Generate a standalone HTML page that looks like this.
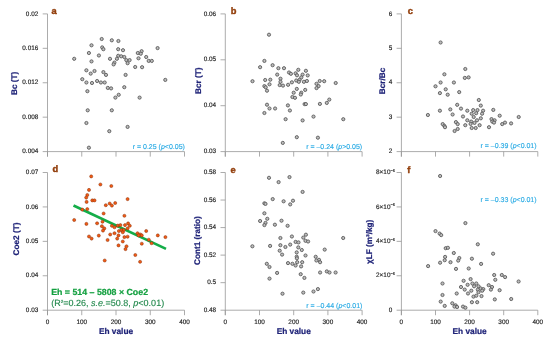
<!DOCTYPE html>
<html><head><meta charset="utf-8"><style>
html,body{margin:0;padding:0;background:#fff;width:550px;height:339px;overflow:hidden}
svg{display:block;transform:translateZ(0);opacity:0.999}
#w{transform:translateZ(0);opacity:0.999;width:550px;height:339px}
body{-webkit-font-smoothing:antialiased}
text{font-family:"Liberation Sans",sans-serif;text-rendering:geometricPrecision}
.tl{font-size:6.4px;fill:#222222;stroke:#222222;stroke-width:0.15px}
.sup{font-size:3.8px}
.tt{font-size:8.2px;font-weight:bold;fill:#1f2378;stroke:#1f2378;stroke-width:0.22px}
.lt{font-size:9.3px;font-weight:bold;fill:#93400e;stroke:#93400e;stroke-width:0.4px}
.rt{font-size:7px;fill:#28aae4;stroke:#28aae4;stroke-width:0.14px}
.eq1{font-size:8.8px;font-weight:bold;fill:#14a040;stroke:#14a040;stroke-width:0.22px}
.eq2{font-size:9px;fill:#22884c;stroke:#22884c;stroke-width:0.14px}
</style></head><body>
<div id="w"><svg width="550" height="339" viewBox="0 0 550 339">
<g>

<path d="M47.5 13.9V156.6M47.5 151.6H184.5" stroke="#979797" stroke-width="0.8" fill="none"/>
<path d="M42.7 13.90H47.5M42.7 48.32H47.5M42.7 82.75H47.5M42.7 117.17H47.5M42.7 151.60H47.5M47.50 151.6V156.6M81.75 151.6V156.6M116.00 151.6V156.6M150.25 151.6V156.6M184.50 151.6V156.6" stroke="#979797" stroke-width="0.8" fill="none"/>
<text x="38.30" y="15.50" class="tl" text-anchor="end">0.02</text>
<text x="38.30" y="49.92" class="tl" text-anchor="end">0.016</text>
<text x="38.30" y="84.35" class="tl" text-anchor="end">0.012</text>
<text x="38.30" y="118.77" class="tl" text-anchor="end">0.008</text>
<text x="38.30" y="153.20" class="tl" text-anchor="end">0.004</text>
<path d="M225.3 13.9V156.6M225.3 151.6H362.1" stroke="#979797" stroke-width="0.8" fill="none"/>
<path d="M220.5 13.90H225.3M220.5 59.80H225.3M220.5 105.70H225.3M220.5 151.60H225.3M225.30 151.6V156.6M259.50 151.6V156.6M293.70 151.6V156.6M327.90 151.6V156.6M362.10 151.6V156.6" stroke="#979797" stroke-width="0.8" fill="none"/>
<text x="216.10" y="15.50" class="tl" text-anchor="end">0.06</text>
<text x="216.10" y="61.40" class="tl" text-anchor="end">0.05</text>
<text x="216.10" y="107.30" class="tl" text-anchor="end">0.04</text>
<text x="216.10" y="153.20" class="tl" text-anchor="end">0.03</text>
<path d="M401.4 13.9V156.6M401.4 151.6H537.8" stroke="#979797" stroke-width="0.8" fill="none"/>
<path d="M396.59999999999997 13.90H401.4M396.59999999999997 48.32H401.4M396.59999999999997 82.75H401.4M396.59999999999997 117.17H401.4M396.59999999999997 151.60H401.4M401.40 151.6V156.6M435.50 151.6V156.6M469.60 151.6V156.6M503.70 151.6V156.6M537.80 151.6V156.6" stroke="#979797" stroke-width="0.8" fill="none"/>
<text x="392.20" y="15.50" class="tl" text-anchor="end">6</text>
<text x="392.20" y="49.92" class="tl" text-anchor="end">5</text>
<text x="392.20" y="84.35" class="tl" text-anchor="end">4</text>
<text x="392.20" y="118.77" class="tl" text-anchor="end">3</text>
<text x="392.20" y="153.20" class="tl" text-anchor="end">2</text>
<path d="M47.5 172.5V315.2M47.5 310.2H184.5" stroke="#979797" stroke-width="0.8" fill="none"/>
<path d="M42.7 172.50H47.5M42.7 206.93H47.5M42.7 241.35H47.5M42.7 275.77H47.5M42.7 310.20H47.5M47.50 310.2V315.2M81.75 310.2V315.2M116.00 310.2V315.2M150.25 310.2V315.2M184.50 310.2V315.2" stroke="#979797" stroke-width="0.8" fill="none"/>
<text x="38.30" y="174.10" class="tl" text-anchor="end">0.07</text>
<text x="38.30" y="208.53" class="tl" text-anchor="end">0.06</text>
<text x="38.30" y="242.95" class="tl" text-anchor="end">0.05</text>
<text x="38.30" y="277.38" class="tl" text-anchor="end">0.04</text>
<text x="38.30" y="311.80" class="tl" text-anchor="end">0.03</text>
<text x="47.50" y="323.80" class="tl" text-anchor="middle">0</text>
<text x="81.75" y="323.80" class="tl" text-anchor="middle">100</text>
<text x="116.00" y="323.80" class="tl" text-anchor="middle">200</text>
<text x="150.25" y="323.80" class="tl" text-anchor="middle">300</text>
<text x="184.50" y="323.80" class="tl" text-anchor="middle">400</text>
<text x="116.00" y="333.70" class="tt" style="font-size:8.3px" text-anchor="middle">Eh value</text>
<path d="M225.3 172.5V315.2M225.3 310.2H362.1" stroke="#979797" stroke-width="0.8" fill="none"/>
<path d="M220.5 172.50H225.3M220.5 200.04H225.3M220.5 227.58H225.3M220.5 255.12H225.3M220.5 282.66H225.3M220.5 310.20H225.3M225.30 310.2V315.2M259.50 310.2V315.2M293.70 310.2V315.2M327.90 310.2V315.2M362.10 310.2V315.2" stroke="#979797" stroke-width="0.8" fill="none"/>
<text x="216.10" y="174.10" class="tl" text-anchor="end">0.58</text>
<text x="216.10" y="201.64" class="tl" text-anchor="end">0.56</text>
<text x="216.10" y="229.18" class="tl" text-anchor="end">0.54</text>
<text x="216.10" y="256.72" class="tl" text-anchor="end">0.52</text>
<text x="216.10" y="284.26" class="tl" text-anchor="end">0.5</text>
<text x="216.10" y="311.80" class="tl" text-anchor="end">0.48</text>
<text x="225.30" y="323.80" class="tl" text-anchor="middle">0</text>
<text x="259.50" y="323.80" class="tl" text-anchor="middle">100</text>
<text x="293.70" y="323.80" class="tl" text-anchor="middle">200</text>
<text x="327.90" y="323.80" class="tl" text-anchor="middle">300</text>
<text x="362.10" y="323.80" class="tl" text-anchor="middle">400</text>
<text x="293.70" y="333.70" class="tt" style="font-size:8.3px" text-anchor="middle">Eh value</text>
<path d="M401.4 172.5V315.2M401.4 310.2H537.8" stroke="#979797" stroke-width="0.8" fill="none"/>
<path d="M396.59999999999997 172.50H401.4M396.59999999999997 206.93H401.4M396.59999999999997 241.35H401.4M396.59999999999997 275.77H401.4M396.59999999999997 310.20H401.4M401.40 310.2V315.2M435.50 310.2V315.2M469.60 310.2V315.2M503.70 310.2V315.2M537.80 310.2V315.2" stroke="#979797" stroke-width="0.8" fill="none"/>
<text x="394.80" y="174.10" class="tl" text-anchor="end">8×10<tspan class="sup" dy="-2.2">−6</tspan></text>
<text x="394.80" y="208.53" class="tl" text-anchor="end">6×10<tspan class="sup" dy="-2.2">−6</tspan></text>
<text x="394.80" y="242.95" class="tl" text-anchor="end">4×10<tspan class="sup" dy="-2.2">−6</tspan></text>
<text x="394.80" y="277.38" class="tl" text-anchor="end">2×10<tspan class="sup" dy="-2.2">−6</tspan></text>
<text x="392.20" y="311.80" class="tl" text-anchor="end">0</text>
<text x="401.40" y="323.80" class="tl" text-anchor="middle">0</text>
<text x="435.50" y="323.80" class="tl" text-anchor="middle">100</text>
<text x="469.60" y="323.80" class="tl" text-anchor="middle">200</text>
<text x="503.70" y="323.80" class="tl" text-anchor="middle">300</text>
<text x="537.80" y="323.80" class="tl" text-anchor="middle">400</text>
<text x="469.60" y="333.70" class="tt" style="font-size:8.3px" text-anchor="middle">Eh value</text>
<text transform="translate(14.1 83.4) rotate(-90)" class="tt" text-anchor="middle" dominant-baseline="central">Bc (T)</text>
<text transform="translate(198 80.8) rotate(-90)" class="tt" text-anchor="middle" dominant-baseline="central">Bcr (T)</text>
<text transform="translate(382.2 81) rotate(-90)" class="tt" text-anchor="middle" dominant-baseline="central">Bcr/Bc</text>
<text transform="translate(16.6 239) rotate(-90)" class="tt" text-anchor="middle" dominant-baseline="central">Coe2 (T)</text>
<text transform="translate(197.3 240.6) rotate(-90)" class="tt" text-anchor="middle" dominant-baseline="central">Cont1 (ratio)</text>
<text transform="translate(369.3 241.9) rotate(-90)" class="tt" text-anchor="middle" dominant-baseline="central">χLF (m³/kg)</text>
<text x="51.5" y="14.3" class="lt">a</text>
<text x="230.8" y="14.2" class="lt">b</text>
<text x="407.8" y="14.2" class="lt">c</text>
<text x="52.6" y="172.4" class="lt">d</text>
<text x="230.5" y="172.5" class="lt">e</text>
<text x="407.2" y="172.6" class="lt">f</text>
<circle cx="101.7" cy="39.0" r="1.6" fill="#bdbdbd" stroke="#555555" stroke-width="0.85"/>
<circle cx="111.8" cy="40.3" r="1.6" fill="#bdbdbd" stroke="#555555" stroke-width="0.85"/>
<circle cx="118.4" cy="41.0" r="1.6" fill="#bdbdbd" stroke="#555555" stroke-width="0.85"/>
<circle cx="91.5" cy="45.3" r="1.6" fill="#bdbdbd" stroke="#555555" stroke-width="0.85"/>
<circle cx="102.2" cy="47.4" r="1.6" fill="#bdbdbd" stroke="#555555" stroke-width="0.85"/>
<circle cx="103.4" cy="49.2" r="1.6" fill="#bdbdbd" stroke="#555555" stroke-width="0.85"/>
<circle cx="118.2" cy="49.2" r="1.6" fill="#bdbdbd" stroke="#555555" stroke-width="0.85"/>
<circle cx="123" cy="50.2" r="1.6" fill="#bdbdbd" stroke="#555555" stroke-width="0.85"/>
<circle cx="88.9" cy="53.0" r="1.6" fill="#bdbdbd" stroke="#555555" stroke-width="0.85"/>
<circle cx="98.9" cy="55.5" r="1.6" fill="#bdbdbd" stroke="#555555" stroke-width="0.85"/>
<circle cx="74.2" cy="58.8" r="1.6" fill="#bdbdbd" stroke="#555555" stroke-width="0.85"/>
<circle cx="91.5" cy="61.4" r="1.6" fill="#bdbdbd" stroke="#555555" stroke-width="0.85"/>
<circle cx="110" cy="58.8" r="1.6" fill="#bdbdbd" stroke="#555555" stroke-width="0.85"/>
<circle cx="118.2" cy="55.8" r="1.6" fill="#bdbdbd" stroke="#555555" stroke-width="0.85"/>
<circle cx="121.2" cy="56.3" r="1.6" fill="#bdbdbd" stroke="#555555" stroke-width="0.85"/>
<circle cx="124.3" cy="57.0" r="1.6" fill="#bdbdbd" stroke="#555555" stroke-width="0.85"/>
<circle cx="116.9" cy="58.8" r="1.6" fill="#bdbdbd" stroke="#555555" stroke-width="0.85"/>
<circle cx="126.3" cy="60.1" r="1.6" fill="#bdbdbd" stroke="#555555" stroke-width="0.85"/>
<circle cx="129.6" cy="60.1" r="1.6" fill="#bdbdbd" stroke="#555555" stroke-width="0.85"/>
<circle cx="127.6" cy="63.2" r="1.6" fill="#bdbdbd" stroke="#555555" stroke-width="0.85"/>
<circle cx="114.4" cy="62.6" r="1.6" fill="#bdbdbd" stroke="#555555" stroke-width="0.85"/>
<circle cx="113.6" cy="64.4" r="1.6" fill="#bdbdbd" stroke="#555555" stroke-width="0.85"/>
<circle cx="137.8" cy="53.0" r="1.6" fill="#bdbdbd" stroke="#555555" stroke-width="0.85"/>
<circle cx="141.6" cy="51.2" r="1.6" fill="#bdbdbd" stroke="#555555" stroke-width="0.85"/>
<circle cx="140.8" cy="53.7" r="1.6" fill="#bdbdbd" stroke="#555555" stroke-width="0.85"/>
<circle cx="157.6" cy="48.1" r="1.6" fill="#bdbdbd" stroke="#555555" stroke-width="0.85"/>
<circle cx="138.5" cy="58.3" r="1.6" fill="#bdbdbd" stroke="#555555" stroke-width="0.85"/>
<circle cx="146.2" cy="57.0" r="1.6" fill="#bdbdbd" stroke="#555555" stroke-width="0.85"/>
<circle cx="148.7" cy="60.9" r="1.6" fill="#bdbdbd" stroke="#555555" stroke-width="0.85"/>
<circle cx="151.8" cy="60.9" r="1.6" fill="#bdbdbd" stroke="#555555" stroke-width="0.85"/>
<circle cx="135.2" cy="67.0" r="1.6" fill="#bdbdbd" stroke="#555555" stroke-width="0.85"/>
<circle cx="142.1" cy="67.2" r="1.6" fill="#bdbdbd" stroke="#555555" stroke-width="0.85"/>
<circle cx="125.6" cy="74.9" r="1.6" fill="#bdbdbd" stroke="#555555" stroke-width="0.85"/>
<circle cx="86.4" cy="70.3" r="1.6" fill="#bdbdbd" stroke="#555555" stroke-width="0.85"/>
<circle cx="94.5" cy="71.0" r="1.6" fill="#bdbdbd" stroke="#555555" stroke-width="0.85"/>
<circle cx="90.7" cy="73.6" r="1.6" fill="#bdbdbd" stroke="#555555" stroke-width="0.85"/>
<circle cx="103.4" cy="72.1" r="1.6" fill="#bdbdbd" stroke="#555555" stroke-width="0.85"/>
<circle cx="106" cy="74.9" r="1.6" fill="#bdbdbd" stroke="#555555" stroke-width="0.85"/>
<circle cx="82.3" cy="79.2" r="1.6" fill="#bdbdbd" stroke="#555555" stroke-width="0.85"/>
<circle cx="86.4" cy="82.5" r="1.6" fill="#bdbdbd" stroke="#555555" stroke-width="0.85"/>
<circle cx="92" cy="83.0" r="1.6" fill="#bdbdbd" stroke="#555555" stroke-width="0.85"/>
<circle cx="97.1" cy="81.0" r="1.6" fill="#bdbdbd" stroke="#555555" stroke-width="0.85"/>
<circle cx="100.9" cy="82.5" r="1.6" fill="#bdbdbd" stroke="#555555" stroke-width="0.85"/>
<circle cx="104.7" cy="82.5" r="1.6" fill="#bdbdbd" stroke="#555555" stroke-width="0.85"/>
<circle cx="165.3" cy="79.9" r="1.6" fill="#bdbdbd" stroke="#555555" stroke-width="0.85"/>
<circle cx="87.4" cy="91.2" r="1.6" fill="#bdbdbd" stroke="#555555" stroke-width="0.85"/>
<circle cx="107.8" cy="87.9" r="1.6" fill="#bdbdbd" stroke="#555555" stroke-width="0.85"/>
<circle cx="111.1" cy="88.4" r="1.6" fill="#bdbdbd" stroke="#555555" stroke-width="0.85"/>
<circle cx="124.3" cy="87.2" r="1.6" fill="#bdbdbd" stroke="#555555" stroke-width="0.85"/>
<circle cx="115.4" cy="97.6" r="1.6" fill="#bdbdbd" stroke="#555555" stroke-width="0.85"/>
<circle cx="118.7" cy="94.8" r="1.6" fill="#bdbdbd" stroke="#555555" stroke-width="0.85"/>
<circle cx="139.6" cy="97.6" r="1.6" fill="#bdbdbd" stroke="#555555" stroke-width="0.85"/>
<circle cx="87.7" cy="110.3" r="1.6" fill="#bdbdbd" stroke="#555555" stroke-width="0.85"/>
<circle cx="111.8" cy="110.3" r="1.6" fill="#bdbdbd" stroke="#555555" stroke-width="0.85"/>
<circle cx="86.4" cy="123.0" r="1.6" fill="#bdbdbd" stroke="#555555" stroke-width="0.85"/>
<circle cx="127.6" cy="126.9" r="1.6" fill="#bdbdbd" stroke="#555555" stroke-width="0.85"/>
<circle cx="109.3" cy="131.2" r="1.6" fill="#bdbdbd" stroke="#555555" stroke-width="0.85"/>
<circle cx="88.9" cy="147.7" r="1.6" fill="#bdbdbd" stroke="#555555" stroke-width="0.85"/>
<circle cx="269" cy="34.7" r="1.6" fill="#bdbdbd" stroke="#555555" stroke-width="0.85"/>
<circle cx="264.4" cy="60.9" r="1.6" fill="#bdbdbd" stroke="#555555" stroke-width="0.85"/>
<circle cx="260.1" cy="67.2" r="1.6" fill="#bdbdbd" stroke="#555555" stroke-width="0.85"/>
<circle cx="272.6" cy="65.2" r="1.6" fill="#bdbdbd" stroke="#555555" stroke-width="0.85"/>
<circle cx="278.4" cy="68.2" r="1.6" fill="#bdbdbd" stroke="#555555" stroke-width="0.85"/>
<circle cx="284" cy="68.2" r="1.6" fill="#bdbdbd" stroke="#555555" stroke-width="0.85"/>
<circle cx="298.3" cy="69.8" r="1.6" fill="#bdbdbd" stroke="#555555" stroke-width="0.85"/>
<circle cx="305.9" cy="70.8" r="1.6" fill="#bdbdbd" stroke="#555555" stroke-width="0.85"/>
<circle cx="277.2" cy="74.6" r="1.6" fill="#bdbdbd" stroke="#555555" stroke-width="0.85"/>
<circle cx="289.0" cy="72.5" r="1.6" fill="#bdbdbd" stroke="#555555" stroke-width="0.85"/>
<circle cx="290.9" cy="73.8" r="1.6" fill="#bdbdbd" stroke="#555555" stroke-width="0.85"/>
<circle cx="295.6" cy="73.3" r="1.6" fill="#bdbdbd" stroke="#555555" stroke-width="0.85"/>
<circle cx="297.0" cy="75.3" r="1.6" fill="#bdbdbd" stroke="#555555" stroke-width="0.85"/>
<circle cx="302.6" cy="74.6" r="1.6" fill="#bdbdbd" stroke="#555555" stroke-width="0.85"/>
<circle cx="307.7" cy="75.4" r="1.6" fill="#bdbdbd" stroke="#555555" stroke-width="0.85"/>
<circle cx="252.5" cy="81.2" r="1.6" fill="#bdbdbd" stroke="#555555" stroke-width="0.85"/>
<circle cx="265.2" cy="80.0" r="1.6" fill="#bdbdbd" stroke="#555555" stroke-width="0.85"/>
<circle cx="270.3" cy="79.7" r="1.6" fill="#bdbdbd" stroke="#555555" stroke-width="0.85"/>
<circle cx="280.5" cy="78.7" r="1.6" fill="#bdbdbd" stroke="#555555" stroke-width="0.85"/>
<circle cx="280.5" cy="81.8" r="1.6" fill="#bdbdbd" stroke="#555555" stroke-width="0.85"/>
<circle cx="269.5" cy="84.3" r="1.6" fill="#bdbdbd" stroke="#555555" stroke-width="0.85"/>
<circle cx="264.4" cy="86.1" r="1.6" fill="#bdbdbd" stroke="#555555" stroke-width="0.85"/>
<circle cx="265.7" cy="87.3" r="1.6" fill="#bdbdbd" stroke="#555555" stroke-width="0.85"/>
<circle cx="267" cy="90.7" r="1.6" fill="#bdbdbd" stroke="#555555" stroke-width="0.85"/>
<circle cx="279.7" cy="85.1" r="1.6" fill="#bdbdbd" stroke="#555555" stroke-width="0.85"/>
<circle cx="283" cy="85.6" r="1.6" fill="#bdbdbd" stroke="#555555" stroke-width="0.85"/>
<circle cx="288.1" cy="84.8" r="1.6" fill="#bdbdbd" stroke="#555555" stroke-width="0.85"/>
<circle cx="291.9" cy="82.3" r="1.6" fill="#bdbdbd" stroke="#555555" stroke-width="0.85"/>
<circle cx="296.2" cy="80.5" r="1.6" fill="#bdbdbd" stroke="#555555" stroke-width="0.85"/>
<circle cx="299.6" cy="79.7" r="1.6" fill="#bdbdbd" stroke="#555555" stroke-width="0.85"/>
<circle cx="298.8" cy="81.8" r="1.6" fill="#bdbdbd" stroke="#555555" stroke-width="0.85"/>
<circle cx="303.9" cy="81.8" r="1.6" fill="#bdbdbd" stroke="#555555" stroke-width="0.85"/>
<circle cx="306.9" cy="81.0" r="1.6" fill="#bdbdbd" stroke="#555555" stroke-width="0.85"/>
<circle cx="301.3" cy="77.4" r="1.6" fill="#bdbdbd" stroke="#555555" stroke-width="0.85"/>
<circle cx="316.5" cy="83.8" r="1.6" fill="#bdbdbd" stroke="#555555" stroke-width="0.85"/>
<circle cx="318.6" cy="86.1" r="1.6" fill="#bdbdbd" stroke="#555555" stroke-width="0.85"/>
<circle cx="316.5" cy="88.1" r="1.6" fill="#bdbdbd" stroke="#555555" stroke-width="0.85"/>
<circle cx="319.7" cy="81.0" r="1.6" fill="#bdbdbd" stroke="#555555" stroke-width="0.85"/>
<circle cx="324.2" cy="81.2" r="1.6" fill="#bdbdbd" stroke="#555555" stroke-width="0.85"/>
<circle cx="335.7" cy="83.0" r="1.6" fill="#bdbdbd" stroke="#555555" stroke-width="0.85"/>
<circle cx="296.8" cy="88.9" r="1.6" fill="#bdbdbd" stroke="#555555" stroke-width="0.85"/>
<circle cx="293.7" cy="92.7" r="1.6" fill="#bdbdbd" stroke="#555555" stroke-width="0.85"/>
<circle cx="301.3" cy="92.7" r="1.6" fill="#bdbdbd" stroke="#555555" stroke-width="0.85"/>
<circle cx="300.8" cy="94.5" r="1.6" fill="#bdbdbd" stroke="#555555" stroke-width="0.85"/>
<circle cx="305.2" cy="89.9" r="1.6" fill="#bdbdbd" stroke="#555555" stroke-width="0.85"/>
<circle cx="292.4" cy="97.0" r="1.6" fill="#bdbdbd" stroke="#555555" stroke-width="0.85"/>
<circle cx="295" cy="97.8" r="1.6" fill="#bdbdbd" stroke="#555555" stroke-width="0.85"/>
<circle cx="267" cy="104.7" r="1.6" fill="#bdbdbd" stroke="#555555" stroke-width="0.85"/>
<circle cx="269.5" cy="108.5" r="1.6" fill="#bdbdbd" stroke="#555555" stroke-width="0.85"/>
<circle cx="275.1" cy="108.5" r="1.6" fill="#bdbdbd" stroke="#555555" stroke-width="0.85"/>
<circle cx="264.4" cy="113.0" r="1.6" fill="#bdbdbd" stroke="#555555" stroke-width="0.85"/>
<circle cx="287.9" cy="105.4" r="1.6" fill="#bdbdbd" stroke="#555555" stroke-width="0.85"/>
<circle cx="289.9" cy="110.5" r="1.6" fill="#bdbdbd" stroke="#555555" stroke-width="0.85"/>
<circle cx="304.6" cy="104.1" r="1.6" fill="#bdbdbd" stroke="#555555" stroke-width="0.85"/>
<circle cx="305.9" cy="104.1" r="1.6" fill="#bdbdbd" stroke="#555555" stroke-width="0.85"/>
<circle cx="319.9" cy="103.9" r="1.6" fill="#bdbdbd" stroke="#555555" stroke-width="0.85"/>
<circle cx="326.8" cy="102.9" r="1.6" fill="#bdbdbd" stroke="#555555" stroke-width="0.85"/>
<circle cx="329.3" cy="99.6" r="1.6" fill="#bdbdbd" stroke="#555555" stroke-width="0.85"/>
<circle cx="285.6" cy="119.2" r="1.6" fill="#bdbdbd" stroke="#555555" stroke-width="0.85"/>
<circle cx="302.6" cy="120.4" r="1.6" fill="#bdbdbd" stroke="#555555" stroke-width="0.85"/>
<circle cx="313.5" cy="116.6" r="1.6" fill="#bdbdbd" stroke="#555555" stroke-width="0.85"/>
<circle cx="343.3" cy="119.2" r="1.6" fill="#bdbdbd" stroke="#555555" stroke-width="0.85"/>
<circle cx="296.8" cy="137.2" r="1.6" fill="#bdbdbd" stroke="#555555" stroke-width="0.85"/>
<circle cx="317.9" cy="137.7" r="1.6" fill="#bdbdbd" stroke="#555555" stroke-width="0.85"/>
<circle cx="282.8" cy="142.9" r="1.6" fill="#bdbdbd" stroke="#555555" stroke-width="0.85"/>
<circle cx="440.6" cy="42.5" r="1.6" fill="#bdbdbd" stroke="#555555" stroke-width="0.85"/>
<circle cx="465.3" cy="69.0" r="1.6" fill="#bdbdbd" stroke="#555555" stroke-width="0.85"/>
<circle cx="444.4" cy="74.3" r="1.6" fill="#bdbdbd" stroke="#555555" stroke-width="0.85"/>
<circle cx="464.8" cy="77.9" r="1.6" fill="#bdbdbd" stroke="#555555" stroke-width="0.85"/>
<circle cx="468.6" cy="77.4" r="1.6" fill="#bdbdbd" stroke="#555555" stroke-width="0.85"/>
<circle cx="440.6" cy="82.5" r="1.6" fill="#bdbdbd" stroke="#555555" stroke-width="0.85"/>
<circle cx="453.9" cy="82.5" r="1.6" fill="#bdbdbd" stroke="#555555" stroke-width="0.85"/>
<circle cx="435.5" cy="86.3" r="1.6" fill="#bdbdbd" stroke="#555555" stroke-width="0.85"/>
<circle cx="445.7" cy="89.3" r="1.6" fill="#bdbdbd" stroke="#555555" stroke-width="0.85"/>
<circle cx="439.9" cy="93.1" r="1.6" fill="#bdbdbd" stroke="#555555" stroke-width="0.85"/>
<circle cx="447.7" cy="94.7" r="1.6" fill="#bdbdbd" stroke="#555555" stroke-width="0.85"/>
<circle cx="459.2" cy="92.1" r="1.6" fill="#bdbdbd" stroke="#555555" stroke-width="0.85"/>
<circle cx="478.8" cy="100.0" r="1.6" fill="#bdbdbd" stroke="#555555" stroke-width="0.85"/>
<circle cx="457.2" cy="104.8" r="1.6" fill="#bdbdbd" stroke="#555555" stroke-width="0.85"/>
<circle cx="480.8" cy="105.6" r="1.6" fill="#bdbdbd" stroke="#555555" stroke-width="0.85"/>
<circle cx="439.9" cy="110.7" r="1.6" fill="#bdbdbd" stroke="#555555" stroke-width="0.85"/>
<circle cx="450.3" cy="109.4" r="1.6" fill="#bdbdbd" stroke="#555555" stroke-width="0.85"/>
<circle cx="461" cy="108.6" r="1.6" fill="#bdbdbd" stroke="#555555" stroke-width="0.85"/>
<circle cx="467.3" cy="110.7" r="1.6" fill="#bdbdbd" stroke="#555555" stroke-width="0.85"/>
<circle cx="473.2" cy="110.1" r="1.6" fill="#bdbdbd" stroke="#555555" stroke-width="0.85"/>
<circle cx="477.5" cy="110.1" r="1.6" fill="#bdbdbd" stroke="#555555" stroke-width="0.85"/>
<circle cx="483.1" cy="110.7" r="1.6" fill="#bdbdbd" stroke="#555555" stroke-width="0.85"/>
<circle cx="493.3" cy="109.9" r="1.6" fill="#bdbdbd" stroke="#555555" stroke-width="0.85"/>
<circle cx="427.9" cy="115.0" r="1.6" fill="#bdbdbd" stroke="#555555" stroke-width="0.85"/>
<circle cx="452.6" cy="114.5" r="1.6" fill="#bdbdbd" stroke="#555555" stroke-width="0.85"/>
<circle cx="463" cy="116.5" r="1.6" fill="#bdbdbd" stroke="#555555" stroke-width="0.85"/>
<circle cx="471.7" cy="113.7" r="1.6" fill="#bdbdbd" stroke="#555555" stroke-width="0.85"/>
<circle cx="476.2" cy="113.2" r="1.6" fill="#bdbdbd" stroke="#555555" stroke-width="0.85"/>
<circle cx="482.1" cy="113.7" r="1.6" fill="#bdbdbd" stroke="#555555" stroke-width="0.85"/>
<circle cx="473.7" cy="117.0" r="1.6" fill="#bdbdbd" stroke="#555555" stroke-width="0.85"/>
<circle cx="480.8" cy="118.3" r="1.6" fill="#bdbdbd" stroke="#555555" stroke-width="0.85"/>
<circle cx="499.7" cy="115.7" r="1.6" fill="#bdbdbd" stroke="#555555" stroke-width="0.85"/>
<circle cx="518.7" cy="117.0" r="1.6" fill="#bdbdbd" stroke="#555555" stroke-width="0.85"/>
<circle cx="467.3" cy="120.3" r="1.6" fill="#bdbdbd" stroke="#555555" stroke-width="0.85"/>
<circle cx="471.2" cy="121.6" r="1.6" fill="#bdbdbd" stroke="#555555" stroke-width="0.85"/>
<circle cx="477" cy="120.3" r="1.6" fill="#bdbdbd" stroke="#555555" stroke-width="0.85"/>
<circle cx="491.5" cy="119.1" r="1.6" fill="#bdbdbd" stroke="#555555" stroke-width="0.85"/>
<circle cx="494.6" cy="120.3" r="1.6" fill="#bdbdbd" stroke="#555555" stroke-width="0.85"/>
<circle cx="492.3" cy="121.6" r="1.6" fill="#bdbdbd" stroke="#555555" stroke-width="0.85"/>
<circle cx="494" cy="122.6" r="1.6" fill="#bdbdbd" stroke="#555555" stroke-width="0.85"/>
<circle cx="455.9" cy="122.1" r="1.6" fill="#bdbdbd" stroke="#555555" stroke-width="0.85"/>
<circle cx="457.7" cy="124.1" r="1.6" fill="#bdbdbd" stroke="#555555" stroke-width="0.85"/>
<circle cx="465.3" cy="125.2" r="1.6" fill="#bdbdbd" stroke="#555555" stroke-width="0.85"/>
<circle cx="470.6" cy="123.9" r="1.6" fill="#bdbdbd" stroke="#555555" stroke-width="0.85"/>
<circle cx="474.5" cy="122.9" r="1.6" fill="#bdbdbd" stroke="#555555" stroke-width="0.85"/>
<circle cx="442.7" cy="124.1" r="1.6" fill="#bdbdbd" stroke="#555555" stroke-width="0.85"/>
<circle cx="444.4" cy="125.9" r="1.6" fill="#bdbdbd" stroke="#555555" stroke-width="0.85"/>
<circle cx="445" cy="127.2" r="1.6" fill="#bdbdbd" stroke="#555555" stroke-width="0.85"/>
<circle cx="479.6" cy="125.2" r="1.6" fill="#bdbdbd" stroke="#555555" stroke-width="0.85"/>
<circle cx="502.2" cy="124.1" r="1.6" fill="#bdbdbd" stroke="#555555" stroke-width="0.85"/>
<circle cx="505" cy="122.6" r="1.6" fill="#bdbdbd" stroke="#555555" stroke-width="0.85"/>
<circle cx="511.1" cy="123.4" r="1.6" fill="#bdbdbd" stroke="#555555" stroke-width="0.85"/>
<circle cx="471.7" cy="128.0" r="1.6" fill="#bdbdbd" stroke="#555555" stroke-width="0.85"/>
<circle cx="475.7" cy="128.0" r="1.6" fill="#bdbdbd" stroke="#555555" stroke-width="0.85"/>
<circle cx="489" cy="127.2" r="1.6" fill="#bdbdbd" stroke="#555555" stroke-width="0.85"/>
<circle cx="454.6" cy="131.0" r="1.6" fill="#bdbdbd" stroke="#555555" stroke-width="0.85"/>
<circle cx="457.7" cy="129.0" r="1.6" fill="#bdbdbd" stroke="#555555" stroke-width="0.85"/>
<line x1="73.5" y1="205.5" x2="166" y2="248.9" stroke="#14ad48" stroke-width="2.7"/>
<circle cx="91.2" cy="176.4" r="1.55" fill="#f25a14" stroke="#84300c" stroke-width="0.5"/>
<circle cx="100.4" cy="184.5" r="1.55" fill="#f25a14" stroke="#84300c" stroke-width="0.5"/>
<circle cx="111.3" cy="186.0" r="1.55" fill="#f25a14" stroke="#84300c" stroke-width="0.5"/>
<circle cx="89" cy="189.9" r="1.55" fill="#f25a14" stroke="#84300c" stroke-width="0.5"/>
<circle cx="87.3" cy="195.0" r="1.55" fill="#f25a14" stroke="#84300c" stroke-width="0.5"/>
<circle cx="86.2" cy="197.6" r="1.55" fill="#f25a14" stroke="#84300c" stroke-width="0.5"/>
<circle cx="92.3" cy="200.4" r="1.55" fill="#f25a14" stroke="#84300c" stroke-width="0.5"/>
<circle cx="94.5" cy="200.4" r="1.55" fill="#f25a14" stroke="#84300c" stroke-width="0.5"/>
<circle cx="86.6" cy="201.9" r="1.55" fill="#f25a14" stroke="#84300c" stroke-width="0.5"/>
<circle cx="127.6" cy="199.1" r="1.55" fill="#f25a14" stroke="#84300c" stroke-width="0.5"/>
<circle cx="105.8" cy="205.2" r="1.55" fill="#f25a14" stroke="#84300c" stroke-width="0.5"/>
<circle cx="109.7" cy="203.5" r="1.55" fill="#f25a14" stroke="#84300c" stroke-width="0.5"/>
<circle cx="111.9" cy="205.6" r="1.55" fill="#f25a14" stroke="#84300c" stroke-width="0.5"/>
<circle cx="115.2" cy="203.0" r="1.55" fill="#f25a14" stroke="#84300c" stroke-width="0.5"/>
<circle cx="82.3" cy="209.6" r="1.55" fill="#f25a14" stroke="#84300c" stroke-width="0.5"/>
<circle cx="87.3" cy="209.1" r="1.55" fill="#f25a14" stroke="#84300c" stroke-width="0.5"/>
<circle cx="103.6" cy="213.5" r="1.55" fill="#f25a14" stroke="#84300c" stroke-width="0.5"/>
<circle cx="74.2" cy="220.0" r="1.55" fill="#f25a14" stroke="#84300c" stroke-width="0.5"/>
<circle cx="124.4" cy="215.8" r="1.55" fill="#f25a14" stroke="#84300c" stroke-width="0.5"/>
<circle cx="86.4" cy="223.9" r="1.55" fill="#f25a14" stroke="#84300c" stroke-width="0.5"/>
<circle cx="97.1" cy="223.3" r="1.55" fill="#f25a14" stroke="#84300c" stroke-width="0.5"/>
<circle cx="102.5" cy="221.7" r="1.55" fill="#f25a14" stroke="#84300c" stroke-width="0.5"/>
<circle cx="101.9" cy="226.2" r="1.55" fill="#f25a14" stroke="#84300c" stroke-width="0.5"/>
<circle cx="104.3" cy="228.4" r="1.55" fill="#f25a14" stroke="#84300c" stroke-width="0.5"/>
<circle cx="103" cy="230.6" r="1.55" fill="#f25a14" stroke="#84300c" stroke-width="0.5"/>
<circle cx="111.9" cy="225.8" r="1.55" fill="#f25a14" stroke="#84300c" stroke-width="0.5"/>
<circle cx="114.5" cy="227.3" r="1.55" fill="#f25a14" stroke="#84300c" stroke-width="0.5"/>
<circle cx="117.8" cy="225.6" r="1.55" fill="#f25a14" stroke="#84300c" stroke-width="0.5"/>
<circle cx="120.4" cy="225.1" r="1.55" fill="#f25a14" stroke="#84300c" stroke-width="0.5"/>
<circle cx="125" cy="225.1" r="1.55" fill="#f25a14" stroke="#84300c" stroke-width="0.5"/>
<circle cx="128.1" cy="223.4" r="1.55" fill="#f25a14" stroke="#84300c" stroke-width="0.5"/>
<circle cx="129.8" cy="225.8" r="1.55" fill="#f25a14" stroke="#84300c" stroke-width="0.5"/>
<circle cx="127.6" cy="228.4" r="1.55" fill="#f25a14" stroke="#84300c" stroke-width="0.5"/>
<circle cx="118.9" cy="231.0" r="1.55" fill="#f25a14" stroke="#84300c" stroke-width="0.5"/>
<circle cx="121.5" cy="230.1" r="1.55" fill="#f25a14" stroke="#84300c" stroke-width="0.5"/>
<circle cx="123.7" cy="230.1" r="1.55" fill="#f25a14" stroke="#84300c" stroke-width="0.5"/>
<circle cx="122.8" cy="232.3" r="1.55" fill="#f25a14" stroke="#84300c" stroke-width="0.5"/>
<circle cx="114.5" cy="233.2" r="1.55" fill="#f25a14" stroke="#84300c" stroke-width="0.5"/>
<circle cx="110.2" cy="234.5" r="1.55" fill="#f25a14" stroke="#84300c" stroke-width="0.5"/>
<circle cx="118.5" cy="235.4" r="1.55" fill="#f25a14" stroke="#84300c" stroke-width="0.5"/>
<circle cx="117.2" cy="238.6" r="1.55" fill="#f25a14" stroke="#84300c" stroke-width="0.5"/>
<circle cx="124.4" cy="237.1" r="1.55" fill="#f25a14" stroke="#84300c" stroke-width="0.5"/>
<circle cx="127.6" cy="236.7" r="1.55" fill="#f25a14" stroke="#84300c" stroke-width="0.5"/>
<circle cx="98.8" cy="235.6" r="1.55" fill="#f25a14" stroke="#84300c" stroke-width="0.5"/>
<circle cx="89" cy="236.5" r="1.55" fill="#f25a14" stroke="#84300c" stroke-width="0.5"/>
<circle cx="91.6" cy="238.6" r="1.55" fill="#f25a14" stroke="#84300c" stroke-width="0.5"/>
<circle cx="107.6" cy="240.0" r="1.55" fill="#f25a14" stroke="#84300c" stroke-width="0.5"/>
<circle cx="122.8" cy="241.5" r="1.55" fill="#f25a14" stroke="#84300c" stroke-width="0.5"/>
<circle cx="118.5" cy="245.4" r="1.55" fill="#f25a14" stroke="#84300c" stroke-width="0.5"/>
<circle cx="126.5" cy="246.3" r="1.55" fill="#f25a14" stroke="#84300c" stroke-width="0.5"/>
<circle cx="125.5" cy="249.1" r="1.55" fill="#f25a14" stroke="#84300c" stroke-width="0.5"/>
<circle cx="137.5" cy="233.2" r="1.55" fill="#f25a14" stroke="#84300c" stroke-width="0.5"/>
<circle cx="140.3" cy="234.5" r="1.55" fill="#f25a14" stroke="#84300c" stroke-width="0.5"/>
<circle cx="141.8" cy="235.4" r="1.55" fill="#f25a14" stroke="#84300c" stroke-width="0.5"/>
<circle cx="138.6" cy="235.4" r="1.55" fill="#f25a14" stroke="#84300c" stroke-width="0.5"/>
<circle cx="146.2" cy="231.0" r="1.55" fill="#f25a14" stroke="#84300c" stroke-width="0.5"/>
<circle cx="157.8" cy="235.4" r="1.55" fill="#f25a14" stroke="#84300c" stroke-width="0.5"/>
<circle cx="165.4" cy="237.1" r="1.55" fill="#f25a14" stroke="#84300c" stroke-width="0.5"/>
<circle cx="148.8" cy="239.7" r="1.55" fill="#f25a14" stroke="#84300c" stroke-width="0.5"/>
<circle cx="141.8" cy="243.7" r="1.55" fill="#f25a14" stroke="#84300c" stroke-width="0.5"/>
<circle cx="151.6" cy="243.2" r="1.55" fill="#f25a14" stroke="#84300c" stroke-width="0.5"/>
<circle cx="135.3" cy="255.0" r="1.55" fill="#f25a14" stroke="#84300c" stroke-width="0.5"/>
<circle cx="104.7" cy="260.5" r="1.55" fill="#f25a14" stroke="#84300c" stroke-width="0.5"/>
<circle cx="140.1" cy="261.8" r="1.55" fill="#f25a14" stroke="#84300c" stroke-width="0.5"/>
<circle cx="269" cy="177.8" r="1.6" fill="#bdbdbd" stroke="#555555" stroke-width="0.85"/>
<circle cx="289.5" cy="177.1" r="1.6" fill="#bdbdbd" stroke="#555555" stroke-width="0.85"/>
<circle cx="278.6" cy="182.1" r="1.6" fill="#bdbdbd" stroke="#555555" stroke-width="0.85"/>
<circle cx="302.6" cy="191.9" r="1.6" fill="#bdbdbd" stroke="#555555" stroke-width="0.85"/>
<circle cx="272.7" cy="199.1" r="1.6" fill="#bdbdbd" stroke="#555555" stroke-width="0.85"/>
<circle cx="264.4" cy="203.3" r="1.6" fill="#bdbdbd" stroke="#555555" stroke-width="0.85"/>
<circle cx="265.5" cy="203.9" r="1.6" fill="#bdbdbd" stroke="#555555" stroke-width="0.85"/>
<circle cx="283.6" cy="201.3" r="1.6" fill="#bdbdbd" stroke="#555555" stroke-width="0.85"/>
<circle cx="293" cy="200.7" r="1.6" fill="#bdbdbd" stroke="#555555" stroke-width="0.85"/>
<circle cx="290.2" cy="204.4" r="1.6" fill="#bdbdbd" stroke="#555555" stroke-width="0.85"/>
<circle cx="264.4" cy="213.3" r="1.6" fill="#bdbdbd" stroke="#555555" stroke-width="0.85"/>
<circle cx="267.3" cy="218.8" r="1.6" fill="#bdbdbd" stroke="#555555" stroke-width="0.85"/>
<circle cx="260.1" cy="221.0" r="1.6" fill="#bdbdbd" stroke="#555555" stroke-width="0.85"/>
<circle cx="265.5" cy="222.9" r="1.6" fill="#bdbdbd" stroke="#555555" stroke-width="0.85"/>
<circle cx="264.4" cy="225.1" r="1.6" fill="#bdbdbd" stroke="#555555" stroke-width="0.85"/>
<circle cx="274.9" cy="224.7" r="1.6" fill="#bdbdbd" stroke="#555555" stroke-width="0.85"/>
<circle cx="281.5" cy="220.7" r="1.6" fill="#bdbdbd" stroke="#555555" stroke-width="0.85"/>
<circle cx="287.6" cy="225.8" r="1.6" fill="#bdbdbd" stroke="#555555" stroke-width="0.85"/>
<circle cx="280.4" cy="238.0" r="1.6" fill="#bdbdbd" stroke="#555555" stroke-width="0.85"/>
<circle cx="291.9" cy="236.5" r="1.6" fill="#bdbdbd" stroke="#555555" stroke-width="0.85"/>
<circle cx="305.9" cy="234.7" r="1.6" fill="#bdbdbd" stroke="#555555" stroke-width="0.85"/>
<circle cx="303.3" cy="237.6" r="1.6" fill="#bdbdbd" stroke="#555555" stroke-width="0.85"/>
<circle cx="305.5" cy="240.8" r="1.6" fill="#bdbdbd" stroke="#555555" stroke-width="0.85"/>
<circle cx="308.1" cy="241.5" r="1.6" fill="#bdbdbd" stroke="#555555" stroke-width="0.85"/>
<circle cx="343.2" cy="238.0" r="1.6" fill="#bdbdbd" stroke="#555555" stroke-width="0.85"/>
<circle cx="252.4" cy="246.3" r="1.6" fill="#bdbdbd" stroke="#555555" stroke-width="0.85"/>
<circle cx="270.1" cy="245.9" r="1.6" fill="#bdbdbd" stroke="#555555" stroke-width="0.85"/>
<circle cx="280.4" cy="245.2" r="1.6" fill="#bdbdbd" stroke="#555555" stroke-width="0.85"/>
<circle cx="285.4" cy="247.0" r="1.6" fill="#bdbdbd" stroke="#555555" stroke-width="0.85"/>
<circle cx="290.2" cy="244.6" r="1.6" fill="#bdbdbd" stroke="#555555" stroke-width="0.85"/>
<circle cx="295.6" cy="241.9" r="1.6" fill="#bdbdbd" stroke="#555555" stroke-width="0.85"/>
<circle cx="298.5" cy="242.4" r="1.6" fill="#bdbdbd" stroke="#555555" stroke-width="0.85"/>
<circle cx="298.3" cy="247.4" r="1.6" fill="#bdbdbd" stroke="#555555" stroke-width="0.85"/>
<circle cx="301.8" cy="250.0" r="1.6" fill="#bdbdbd" stroke="#555555" stroke-width="0.85"/>
<circle cx="324.7" cy="249.6" r="1.6" fill="#bdbdbd" stroke="#555555" stroke-width="0.85"/>
<circle cx="279.7" cy="250.7" r="1.6" fill="#bdbdbd" stroke="#555555" stroke-width="0.85"/>
<circle cx="282.1" cy="254.6" r="1.6" fill="#bdbdbd" stroke="#555555" stroke-width="0.85"/>
<circle cx="296.7" cy="252.4" r="1.6" fill="#bdbdbd" stroke="#555555" stroke-width="0.85"/>
<circle cx="305.5" cy="255.5" r="1.6" fill="#bdbdbd" stroke="#555555" stroke-width="0.85"/>
<circle cx="296.7" cy="256.7" r="1.6" fill="#bdbdbd" stroke="#555555" stroke-width="0.85"/>
<circle cx="296.9" cy="258.3" r="1.6" fill="#bdbdbd" stroke="#555555" stroke-width="0.85"/>
<circle cx="315.7" cy="256.8" r="1.6" fill="#bdbdbd" stroke="#555555" stroke-width="0.85"/>
<circle cx="319" cy="259.8" r="1.6" fill="#bdbdbd" stroke="#555555" stroke-width="0.85"/>
<circle cx="316.4" cy="260.5" r="1.6" fill="#bdbdbd" stroke="#555555" stroke-width="0.85"/>
<circle cx="320.1" cy="262.2" r="1.6" fill="#bdbdbd" stroke="#555555" stroke-width="0.85"/>
<circle cx="266.8" cy="263.8" r="1.6" fill="#bdbdbd" stroke="#555555" stroke-width="0.85"/>
<circle cx="269.5" cy="267.0" r="1.6" fill="#bdbdbd" stroke="#555555" stroke-width="0.85"/>
<circle cx="288" cy="263.1" r="1.6" fill="#bdbdbd" stroke="#555555" stroke-width="0.85"/>
<circle cx="292.4" cy="263.8" r="1.6" fill="#bdbdbd" stroke="#555555" stroke-width="0.85"/>
<circle cx="295.6" cy="265.5" r="1.6" fill="#bdbdbd" stroke="#555555" stroke-width="0.85"/>
<circle cx="297.2" cy="262.2" r="1.6" fill="#bdbdbd" stroke="#555555" stroke-width="0.85"/>
<circle cx="302.2" cy="262.2" r="1.6" fill="#bdbdbd" stroke="#555555" stroke-width="0.85"/>
<circle cx="301.1" cy="266.4" r="1.6" fill="#bdbdbd" stroke="#555555" stroke-width="0.85"/>
<circle cx="277.1" cy="272.9" r="1.6" fill="#bdbdbd" stroke="#555555" stroke-width="0.85"/>
<circle cx="300.7" cy="274.2" r="1.6" fill="#bdbdbd" stroke="#555555" stroke-width="0.85"/>
<circle cx="320.1" cy="272.5" r="1.6" fill="#bdbdbd" stroke="#555555" stroke-width="0.85"/>
<circle cx="326.8" cy="271.4" r="1.6" fill="#bdbdbd" stroke="#555555" stroke-width="0.85"/>
<circle cx="329.5" cy="272.5" r="1.6" fill="#bdbdbd" stroke="#555555" stroke-width="0.85"/>
<circle cx="335.6" cy="272.5" r="1.6" fill="#bdbdbd" stroke="#555555" stroke-width="0.85"/>
<circle cx="269.5" cy="278.6" r="1.6" fill="#bdbdbd" stroke="#555555" stroke-width="0.85"/>
<circle cx="304.4" cy="277.9" r="1.6" fill="#bdbdbd" stroke="#555555" stroke-width="0.85"/>
<circle cx="282.5" cy="293.7" r="1.6" fill="#bdbdbd" stroke="#555555" stroke-width="0.85"/>
<circle cx="303.3" cy="292.6" r="1.6" fill="#bdbdbd" stroke="#555555" stroke-width="0.85"/>
<circle cx="313.5" cy="291.5" r="1.6" fill="#bdbdbd" stroke="#555555" stroke-width="0.85"/>
<circle cx="317.9" cy="289.1" r="1.6" fill="#bdbdbd" stroke="#555555" stroke-width="0.85"/>
<circle cx="440.1" cy="176.0" r="1.6" fill="#bdbdbd" stroke="#555555" stroke-width="0.85"/>
<circle cx="465.4" cy="223.1" r="1.6" fill="#bdbdbd" stroke="#555555" stroke-width="0.85"/>
<circle cx="435.5" cy="231.1" r="1.6" fill="#bdbdbd" stroke="#555555" stroke-width="0.85"/>
<circle cx="439.6" cy="233.6" r="1.6" fill="#bdbdbd" stroke="#555555" stroke-width="0.85"/>
<circle cx="441.2" cy="235.1" r="1.6" fill="#bdbdbd" stroke="#555555" stroke-width="0.85"/>
<circle cx="477.8" cy="244.3" r="1.6" fill="#bdbdbd" stroke="#555555" stroke-width="0.85"/>
<circle cx="445.7" cy="248.2" r="1.6" fill="#bdbdbd" stroke="#555555" stroke-width="0.85"/>
<circle cx="447.9" cy="247.8" r="1.6" fill="#bdbdbd" stroke="#555555" stroke-width="0.85"/>
<circle cx="453.8" cy="253.0" r="1.6" fill="#bdbdbd" stroke="#555555" stroke-width="0.85"/>
<circle cx="493.1" cy="253.7" r="1.6" fill="#bdbdbd" stroke="#555555" stroke-width="0.85"/>
<circle cx="445.1" cy="256.9" r="1.6" fill="#bdbdbd" stroke="#555555" stroke-width="0.85"/>
<circle cx="444.7" cy="260.2" r="1.6" fill="#bdbdbd" stroke="#555555" stroke-width="0.85"/>
<circle cx="450.5" cy="262.2" r="1.6" fill="#bdbdbd" stroke="#555555" stroke-width="0.85"/>
<circle cx="459.3" cy="258.0" r="1.6" fill="#bdbdbd" stroke="#555555" stroke-width="0.85"/>
<circle cx="458.2" cy="260.6" r="1.6" fill="#bdbdbd" stroke="#555555" stroke-width="0.85"/>
<circle cx="471.9" cy="258.7" r="1.6" fill="#bdbdbd" stroke="#555555" stroke-width="0.85"/>
<circle cx="440.1" cy="262.7" r="1.6" fill="#bdbdbd" stroke="#555555" stroke-width="0.85"/>
<circle cx="428.1" cy="266.1" r="1.6" fill="#bdbdbd" stroke="#555555" stroke-width="0.85"/>
<circle cx="481.1" cy="263.9" r="1.6" fill="#bdbdbd" stroke="#555555" stroke-width="0.85"/>
<circle cx="456" cy="268.9" r="1.6" fill="#bdbdbd" stroke="#555555" stroke-width="0.85"/>
<circle cx="468.7" cy="268.5" r="1.6" fill="#bdbdbd" stroke="#555555" stroke-width="0.85"/>
<circle cx="494.2" cy="275.0" r="1.6" fill="#bdbdbd" stroke="#555555" stroke-width="0.85"/>
<circle cx="501.8" cy="275.0" r="1.6" fill="#bdbdbd" stroke="#555555" stroke-width="0.85"/>
<circle cx="505.1" cy="277.1" r="1.6" fill="#bdbdbd" stroke="#555555" stroke-width="0.85"/>
<circle cx="495.3" cy="279.8" r="1.6" fill="#bdbdbd" stroke="#555555" stroke-width="0.85"/>
<circle cx="518.6" cy="281.5" r="1.6" fill="#bdbdbd" stroke="#555555" stroke-width="0.85"/>
<circle cx="442.5" cy="283.5" r="1.6" fill="#bdbdbd" stroke="#555555" stroke-width="0.85"/>
<circle cx="463.6" cy="280.8" r="1.6" fill="#bdbdbd" stroke="#555555" stroke-width="0.85"/>
<circle cx="470.6" cy="279.1" r="1.6" fill="#bdbdbd" stroke="#555555" stroke-width="0.85"/>
<circle cx="467.6" cy="284.8" r="1.6" fill="#bdbdbd" stroke="#555555" stroke-width="0.85"/>
<circle cx="472.4" cy="283.5" r="1.6" fill="#bdbdbd" stroke="#555555" stroke-width="0.85"/>
<circle cx="476.3" cy="283.5" r="1.6" fill="#bdbdbd" stroke="#555555" stroke-width="0.85"/>
<circle cx="474.1" cy="286.3" r="1.6" fill="#bdbdbd" stroke="#555555" stroke-width="0.85"/>
<circle cx="478.5" cy="286.3" r="1.6" fill="#bdbdbd" stroke="#555555" stroke-width="0.85"/>
<circle cx="480.7" cy="288.5" r="1.6" fill="#bdbdbd" stroke="#555555" stroke-width="0.85"/>
<circle cx="483.3" cy="289.1" r="1.6" fill="#bdbdbd" stroke="#555555" stroke-width="0.85"/>
<circle cx="482.2" cy="290.7" r="1.6" fill="#bdbdbd" stroke="#555555" stroke-width="0.85"/>
<circle cx="477.8" cy="289.6" r="1.6" fill="#bdbdbd" stroke="#555555" stroke-width="0.85"/>
<circle cx="461" cy="287.0" r="1.6" fill="#bdbdbd" stroke="#555555" stroke-width="0.85"/>
<circle cx="464.7" cy="289.6" r="1.6" fill="#bdbdbd" stroke="#555555" stroke-width="0.85"/>
<circle cx="471.3" cy="290.7" r="1.6" fill="#bdbdbd" stroke="#555555" stroke-width="0.85"/>
<circle cx="478.5" cy="292.2" r="1.6" fill="#bdbdbd" stroke="#555555" stroke-width="0.85"/>
<circle cx="488.7" cy="285.2" r="1.6" fill="#bdbdbd" stroke="#555555" stroke-width="0.85"/>
<circle cx="492" cy="287.0" r="1.6" fill="#bdbdbd" stroke="#555555" stroke-width="0.85"/>
<circle cx="490.9" cy="289.6" r="1.6" fill="#bdbdbd" stroke="#555555" stroke-width="0.85"/>
<circle cx="499.6" cy="290.2" r="1.6" fill="#bdbdbd" stroke="#555555" stroke-width="0.85"/>
<circle cx="442.5" cy="295.0" r="1.6" fill="#bdbdbd" stroke="#555555" stroke-width="0.85"/>
<circle cx="456.7" cy="293.5" r="1.6" fill="#bdbdbd" stroke="#555555" stroke-width="0.85"/>
<circle cx="468" cy="293.5" r="1.6" fill="#bdbdbd" stroke="#555555" stroke-width="0.85"/>
<circle cx="473.5" cy="296.6" r="1.6" fill="#bdbdbd" stroke="#555555" stroke-width="0.85"/>
<circle cx="476.3" cy="295.7" r="1.6" fill="#bdbdbd" stroke="#555555" stroke-width="0.85"/>
<circle cx="481.5" cy="296.1" r="1.6" fill="#bdbdbd" stroke="#555555" stroke-width="0.85"/>
<circle cx="494.8" cy="299.4" r="1.6" fill="#bdbdbd" stroke="#555555" stroke-width="0.85"/>
<circle cx="511.2" cy="299.0" r="1.6" fill="#bdbdbd" stroke="#555555" stroke-width="0.85"/>
<circle cx="440.7" cy="301.6" r="1.6" fill="#bdbdbd" stroke="#555555" stroke-width="0.85"/>
<circle cx="444.7" cy="305.9" r="1.6" fill="#bdbdbd" stroke="#555555" stroke-width="0.85"/>
<circle cx="452.3" cy="303.3" r="1.6" fill="#bdbdbd" stroke="#555555" stroke-width="0.85"/>
<circle cx="455.6" cy="305.3" r="1.6" fill="#bdbdbd" stroke="#555555" stroke-width="0.85"/>
<circle cx="454.5" cy="306.6" r="1.6" fill="#bdbdbd" stroke="#555555" stroke-width="0.85"/>
<circle cx="457.1" cy="307.0" r="1.6" fill="#bdbdbd" stroke="#555555" stroke-width="0.85"/>
<circle cx="463" cy="306.6" r="1.6" fill="#bdbdbd" stroke="#555555" stroke-width="0.85"/>
<circle cx="465.4" cy="307.7" r="1.6" fill="#bdbdbd" stroke="#555555" stroke-width="0.85"/>
<circle cx="471.9" cy="302.2" r="1.6" fill="#bdbdbd" stroke="#555555" stroke-width="0.85"/>
<circle cx="477.2" cy="302.2" r="1.6" fill="#bdbdbd" stroke="#555555" stroke-width="0.85"/>
<text x="184.9" y="148.8" class="rt" text-anchor="end">r = 0.25 (<tspan font-style="italic">p</tspan>&lt;0.05)</text>
<text x="362.2" y="148.9" class="rt" text-anchor="end">r = –0.24 (<tspan font-style="italic">p</tspan>&gt;0.05)</text>
<text x="536.6" y="147.8" class="rt" text-anchor="end">r = –0.39 (<tspan font-style="italic">p</tspan>&lt;0.01)</text>
<text x="362.4" y="307.6" class="rt" text-anchor="end">r = –0.44 (<tspan font-style="italic">p</tspan>&lt;0.01)</text>
<text x="536.6" y="201.9" class="rt" text-anchor="end">r = –0.33 (<tspan font-style="italic">p</tspan>&lt;0.01)</text>
<text x="51.2" y="295.1" class="eq1">Eh = 514 – 5808 × Coe2</text>
<text x="51.2" y="305.6" class="eq2">(R<tspan font-size="4.6px" dy="-2.7">2</tspan><tspan dy="2.7">=0.26</tspan>, <tspan font-style="italic">s.e.</tspan>=50.8, <tspan font-style="italic">p</tspan>&lt;0.01)</text>
</g></svg></div>
</body></html>
